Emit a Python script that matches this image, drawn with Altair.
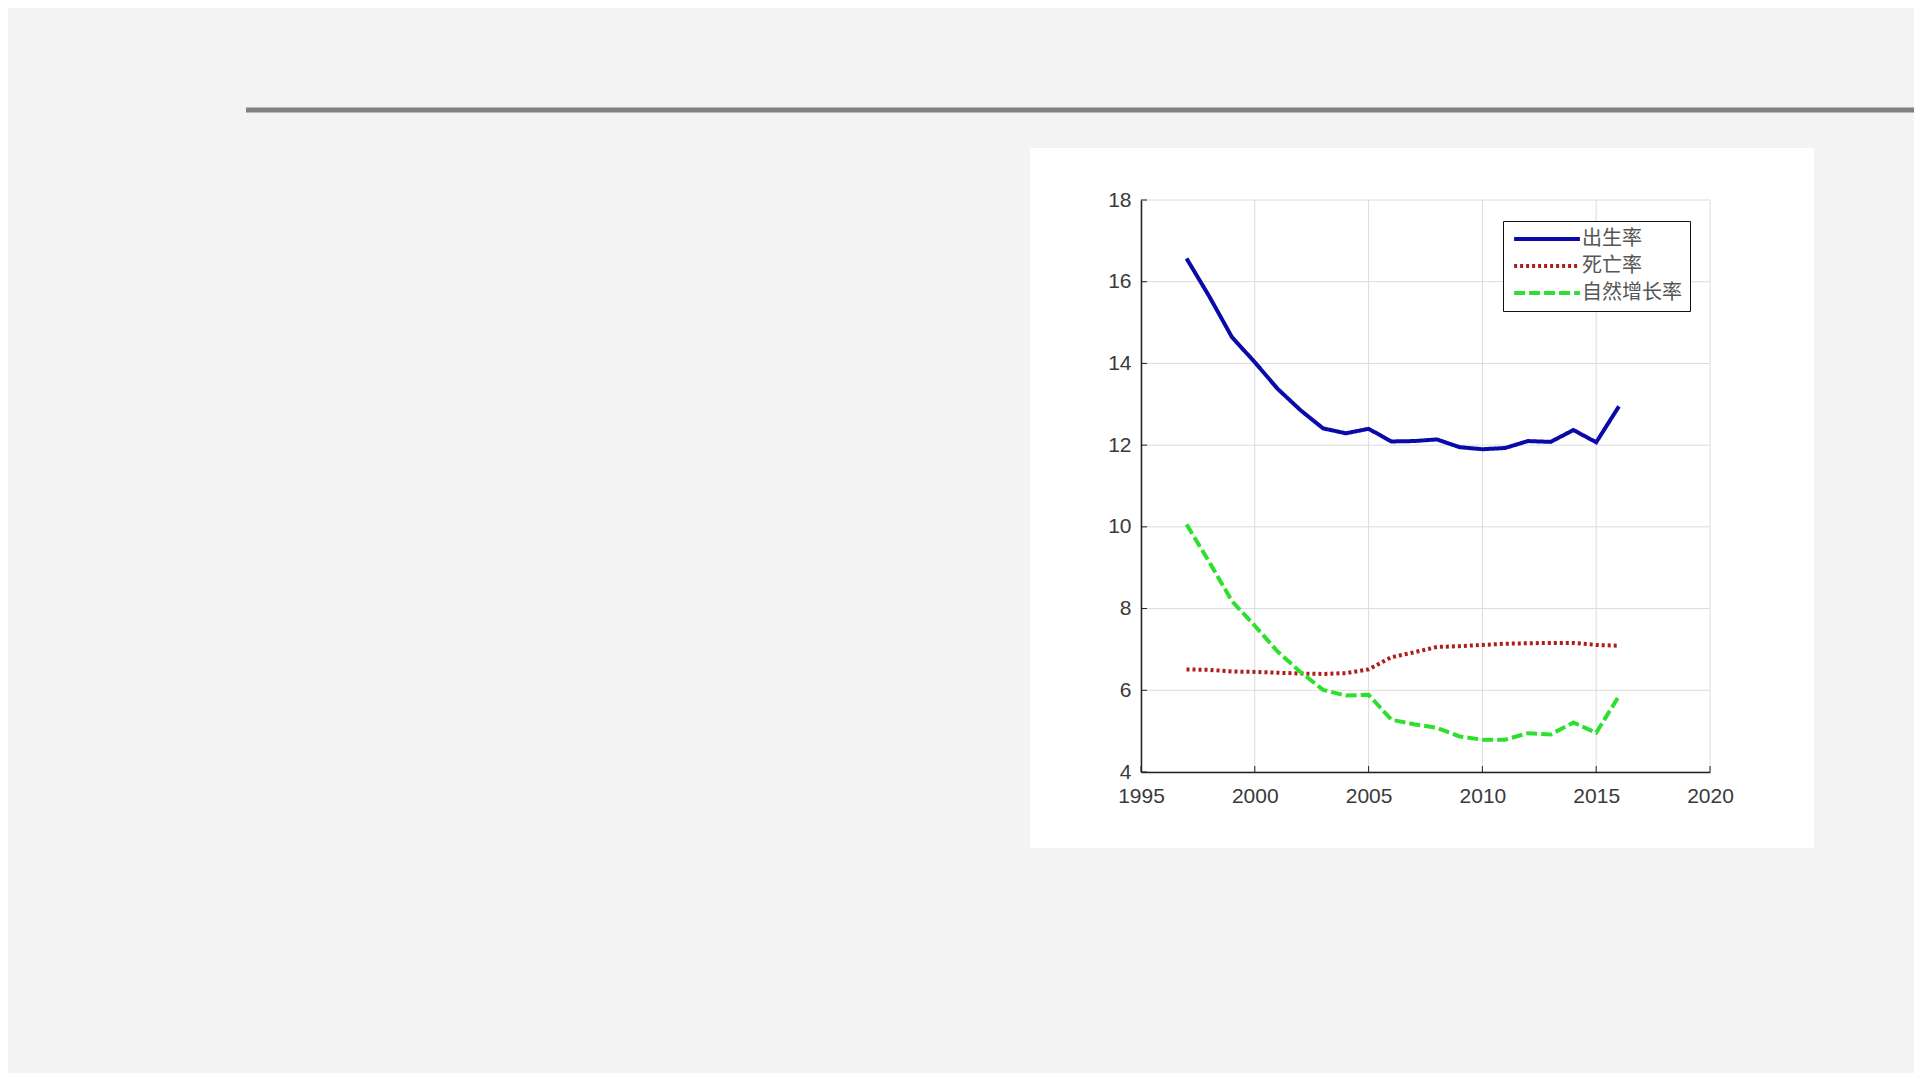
import altair as alt
import pandas as pd

years = list(range(1997, 2017))
birth = [16.57, 15.64, 14.64, 14.03, 13.38, 12.86, 12.41, 12.29, 12.40, 12.09,
         12.10, 12.14, 11.95, 11.90, 11.93, 12.10, 12.08, 12.37, 12.07, 12.95]
death = [6.51, 6.50, 6.46, 6.45, 6.43, 6.41, 6.40, 6.42, 6.51, 6.81,
         6.93, 7.06, 7.08, 7.11, 7.14, 7.15, 7.16, 7.16, 7.11, 7.09]
growth = [10.06, 9.14, 8.18, 7.58, 6.95, 6.45, 6.01, 5.87, 5.89, 5.28,
          5.17, 5.08, 4.87, 4.79, 4.79, 4.95, 4.92, 5.21, 4.96, 5.86]
series_names = ["出生率", "死亡率", "自然增长率"]
x_ticks = [1995, 2000, 2005, 2010, 2015, 2020]
y_ticks = [4, 6, 8, 10, 12, 14, 16, 18]

rows = []
for name, vals in zip(series_names, [birth, death, growth]):
    for y, v in zip(years, vals):
        rows.append({"year": y, "value": v, "series": name})
df = pd.DataFrame(rows)

W, H = 569, 572
xscale = alt.Scale(domain=[1995, 2020], nice=False)
yscale = alt.Scale(domain=[4, 18], nice=False)

x_axis = alt.Axis(values=x_ticks, format="d", title=None, grid=False,
                  ticks=False, zindex=1, labelFlush=False,
                  domainColor="#222", domainWidth=1.5,
                  labelFont="Liberation Sans", labelFontSize=21,
                  labelColor="#3a3a3a", labelPadding=13)
y_axis = alt.Axis(values=y_ticks, title=None, grid=False,
                  ticks=False, zindex=1, labelFlush=False,
                  domainColor="#222", domainWidth=1.5,
                  labelFont="Liberation Sans", labelFontSize=21,
                  labelColor="#3a3a3a", labelPadding=10)

# decorations (slide elements)
white_box = alt.Chart(pd.DataFrame({"a": [0]})).mark_rect(color="white").encode(
    x=alt.value(-111), x2=alt.value(673), y=alt.value(-52), y2=alt.value(648)
)
top_rule = alt.Chart(pd.DataFrame({"a": [0]})).mark_rule(color="#808080", strokeWidth=5).encode(
    x=alt.value(-895), x2=alt.value(790), y=alt.value(-90)
)

xt = pd.DataFrame({"t": x_ticks})
yt = pd.DataFrame({"t": y_ticks})
x_grid = alt.Chart(xt).mark_rule(color="#dcdcdc", strokeWidth=1).encode(
    x=alt.X("t:Q", scale=xscale, axis=x_axis), y=alt.value(0), y2=alt.value(H)
)
y_grid = alt.Chart(yt).mark_rule(color="#dcdcdc", strokeWidth=1).encode(
    y=alt.Y("t:Q", scale=yscale, axis=y_axis), x=alt.value(0), x2=alt.value(W)
)
x_tick_marks = alt.Chart(xt).mark_rule(color="#222", strokeWidth=1).encode(
    x=alt.X("t:Q", scale=xscale, axis=x_axis), y=alt.value(H), y2=alt.value(H - 6)
)
y_tick_marks = alt.Chart(yt).mark_rule(color="#222", strokeWidth=1).encode(
    y=alt.Y("t:Q", scale=yscale, axis=y_axis), x=alt.value(0), x2=alt.value(6)
)

legend = alt.Legend(title=None, orient="none", legendX=362, legendY=21,
                    padding=8, strokeColor="#111", fillColor="white",
                    labelFont="Noto Sans CJK SC", labelFontSize=20,
                    labelColor="#555", labelOffset=25, symbolOffset=26,
                    symbolType="M-4.7,0H4.7", symbolSize=196,
                    symbolStrokeWidth=4, rowPadding=7)

lines = alt.Chart(df).mark_line(strokeWidth=4).encode(
    x=alt.X("year:Q", scale=xscale, axis=x_axis),
    y=alt.Y("value:Q", scale=yscale, axis=y_axis),
    color=alt.Color("series:N",
                    scale=alt.Scale(domain=series_names,
                                    range=["#0a0aa8", "#b01c1c", "#2ee02e"]),
                    legend=legend),
    strokeDash=alt.StrokeDash("series:N",
                              scale=alt.Scale(domain=series_names,
                                              range=[[1, 0], [3, 3], [11, 4]]),
                              legend=legend),
    detail="series:N",
)

chart = alt.layer(
    top_rule, white_box, x_grid, y_grid, x_tick_marks, y_tick_marks, lines
).properties(
    width=W, height=H,
    padding={"left": 1133, "top": 192, "right": 204, "bottom": 301},
    autosize=alt.AutoSizeParams(type="none"),
    background="#f3f3f3",
).configure_view(stroke=None)

chart.save("out.html", embed_options={"renderer": "svg", "actions": False})
